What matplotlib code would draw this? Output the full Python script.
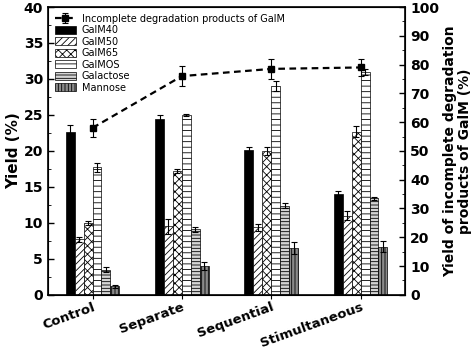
import numpy as np
import matplotlib.pyplot as plt
import matplotlib as mpl

mpl.rcParams['hatch.linewidth'] = 0.6

groups = ['Control', 'Separate', 'Sequential', 'Stimultaneous']
series = ['GalM40', 'GalM50', 'GalM65', 'GalMOS', 'Galactose', 'Mannose']
values = [
    [22.7, 24.4, 20.1, 14.0],
    [7.7, 9.5, 9.4, 11.0],
    [10.0, 17.2, 20.0, 22.7],
    [17.7, 25.0, 29.0, 31.0],
    [3.5, 9.1, 12.4, 13.4],
    [1.2, 4.0, 6.5, 6.7],
]
errors = [
    [0.9, 0.6, 0.5, 0.5],
    [0.4, 1.0, 0.5, 0.6],
    [0.3, 0.3, 0.6, 0.8],
    [0.6, 0.2, 0.7, 0.4],
    [0.3, 0.3, 0.3, 0.2],
    [0.2, 0.6, 0.8, 0.8],
]
line_vals = [58.0, 76.0, 78.5, 79.0]
line_err = [3.0, 3.5, 3.5, 3.0]

facecolors = ['black', 'white', 'white', 'white', '#d4d4d4', '#8a8a8a']
hatches = [None, '/////', 'xxxx', '---', '-----', '|||||']

fig, ax = plt.subplots(figsize=(4.74, 3.51), dpi=100)
fig.subplots_adjust(left=0.101, right=0.855, top=0.98, bottom=0.16)

x = np.arange(len(groups))
w = 0.1
handles = []
for i, name in enumerate(series):
    pos = x - 0.25 + i * w
    b = ax.bar(pos, values[i], w, color=facecolors[i], edgecolor='black',
               hatch=hatches[i], linewidth=0.5, label=name)
    ax.errorbar(pos, values[i], yerr=errors[i], fmt='none', ecolor='black',
                elinewidth=0.8, capsize=2, capthick=0.8)
    handles.append(b)

ax.set_xlim(-0.5, 3.5)
ax.set_ylim(0, 40)
ax.set_yticks(np.arange(0, 41, 5))
ax.set_yticks(np.arange(0, 41, 2.5), minor=True)
ax.set_xticks(x)
ax.set_xticklabels(groups, rotation=20, fontsize=9.5, fontweight='bold',
                   ha='right', rotation_mode='anchor')
ax.tick_params(axis='y', direction='in', labelsize=10, width=1, length=4)
ax.tick_params(axis='y', which='minor', direction='in', length=2)
ax.tick_params(axis='x', direction='out', length=3, pad=1)
for lbl in ax.get_yticklabels():
    lbl.set_fontweight('bold')
ax.set_ylabel('Yield (%)', fontsize=11, fontweight='bold', labelpad=2)
for s in ax.spines.values():
    s.set_linewidth(1.2)

ax2 = ax.twinx()
ln = ax2.errorbar(x, line_vals, yerr=line_err, fmt='--s', color='black',
                  ms=5, lw=1.6, dashes=(3, 2), elinewidth=0.8, capsize=2.5,
                  capthick=0.8, label='Incomplete degradation products of GalM')
ax2.set_ylim(0, 100)
ax2.set_yticks(np.arange(0, 101, 10))
ax2.set_yticks(np.arange(0, 101, 5), minor=True)
ax2.tick_params(axis='y', direction='in', labelsize=10, width=1, length=4)
ax2.tick_params(axis='y', which='minor', direction='in', length=2)
for lbl in ax2.get_yticklabels():
    lbl.set_fontweight('bold')
ax2.set_ylabel('Yield of incomplete degradation\nproducts of GalM (%)',
               fontsize=10, fontweight='bold', labelpad=3, linespacing=1.1)

ax2.legend([ln] + handles, ['Incomplete degradation products of GalM'] + series,
           loc='upper left', frameon=False, fontsize=7, handlelength=2.2,
           handleheight=0.9, labelspacing=0.15, borderaxespad=0.3,
           handletextpad=0.6)

fig.savefig('out.png')
